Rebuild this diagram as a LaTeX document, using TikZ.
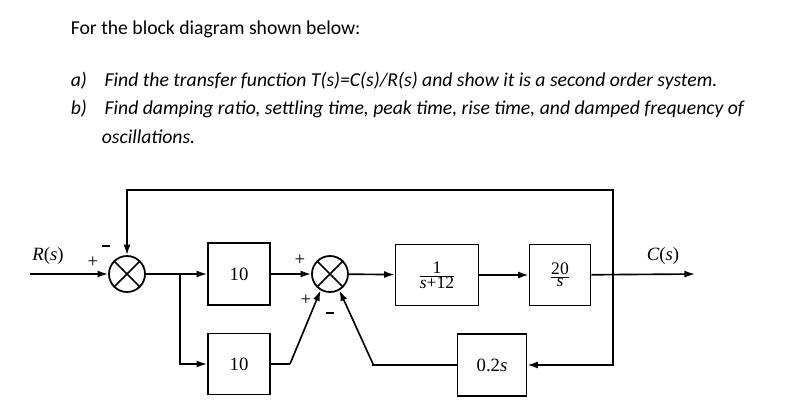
\documentclass[tikz,border=0pt]{standalone}
\usepackage{fontspec}
\setmainfont{Liberation Serif}
\newfontfamily\qfont{Carlito}
\usetikzlibrary{arrows.meta}
\begin{document}
\begin{tikzpicture}[x=0.03cm,y=-0.03cm,line width=1.4pt,
  blk/.style={draw,line width=1.5pt,inner sep=0pt},
  sumj/.style={draw,circle,line width=1.5pt,minimum size=36*0.03cm,inner sep=0pt},
  sig/.style={-{Latex[length=9pt,width=6pt]}},
  lbl/.style={font=\fontsize{16}{18}\selectfont},
  frc/.style={font=\fontsize{15}{15}\selectfont},
  mns/.style={line width=1.6pt},
  qtext/.style={anchor=base west,inner sep=0pt,font=\qfont\fontsize{16.8}{19}\selectfont}]
\useasboundingbox (0,0) rectangle (798,411);
% question text
\node[qtext] (q0) at (70,34) {For the block diagram shown below:};
\node[qtext] (qa) at (70,86) {\itshape a)\hspace{0.9em}Find the transfer function T(s)=C(s)/R(s) and show it is a second order system.};
\node[qtext] (qb) at (70,114) {\itshape b)\hspace{0.9em}Find damping ratio, settling time, peak time, rise time, and damped frequency of};
\node[qtext] (qc) at (101,143) {\itshape oscillations.};
% blocks
\node[sumj] (s1) at (127,274) {};
\draw[line width=1.5pt] (s1.45) -- (s1.225) (s1.135) -- (s1.315);
\node[sumj] (s2) at (330,274) {};
\draw[line width=1.5pt] (s2.45) -- (s2.225) (s2.135) -- (s2.315);
\node[blk,minimum width=62*0.03cm,minimum height=62*0.03cm,lbl] (g1) at (239,274) {10};
\node[blk,minimum width=62*0.03cm,minimum height=61*0.03cm,lbl] (g2) at (239,364) {10};
\node[blk,minimum width=83*0.03cm,minimum height=61*0.03cm,frc] (g3) at (437,275) {$\frac{\mbox{1}}{\mbox{\itshape s\upshape+12}}$};
\node[blk,minimum width=61*0.03cm,minimum height=61*0.03cm,frc] (g4) at (560,275) {$\frac{\mbox{20}}{\mbox{\itshape s}}$};
\node[blk,minimum width=69*0.03cm,minimum height=62*0.03cm,lbl] (g5) at (492,365) {0.2\textit{s}};
% coordinates
\coordinate (in) at (30,274);
\coordinate (out) at (695,274);
\coordinate (bp) at (180,274);
\coordinate (tp) at (613,274);
\coordinate (tl) at (127,190);
\coordinate (tr) at (613,190);
\coordinate (k1) at (290,364);
\coordinate (k2) at (373,364);
% connectors
\draw[sig] (in) -- (s1);
\draw (s1) -- (bp);
\draw[sig] (bp) -- (g1);
\draw[sig] (bp) |- (g2);
\draw[sig] (g1) -- (s2);
\draw (g2) -- (k1);
\draw[sig] (k1) -- (s2.240);
\draw[sig] (s2) -- (g3);
\draw[sig] (g3) -- (g4);
\draw[sig] (g4) -- (out);
\draw[sig] (tp) -- (tr) -- (tl) -- (s1);
\draw[sig] (tp) |- (g5);
\draw (g5) -| (k2);
\draw[sig] (k2) -- (s2.300);
% signs and labels
\node[lbl] (r) at (48,256) {\textit{R}(\textit{s})};
\node[lbl] (c) at (663,256) {\textit{C}(\textit{s})};
\node[lbl] (p1) at (93,262) {+};
\node[lbl] (p2) at (300,260) {+};
\node[lbl] (p3) at (306,300) {+};
\draw[mns] (102,246) -- (110,246);
\draw[mns] (326,313) -- (334,313);
\end{tikzpicture}
\end{document}
